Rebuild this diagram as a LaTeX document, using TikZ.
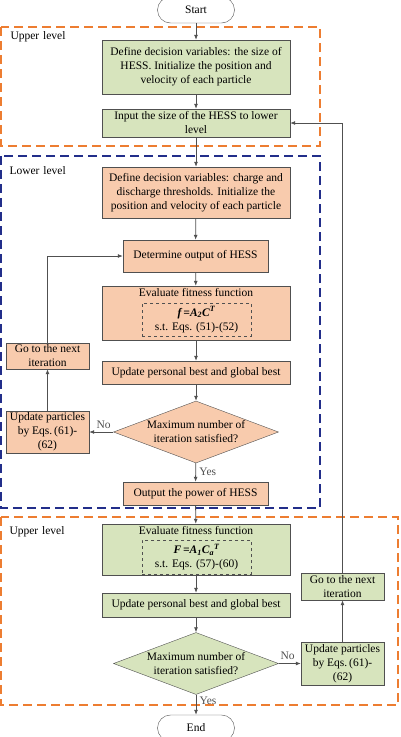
\documentclass[tikz,border=0pt]{standalone}
\usepackage{fontspec}
\setmainfont{Liberation Serif}
\usetikzlibrary{arrows.meta,shapes.geometric}

\definecolor{boxgreen}{RGB}{215,228,189}
\definecolor{boxorange}{RGB}{248,203,173}
\definecolor{frameorange}{RGB}{237,125,49}
\definecolor{framenavy}{RGB}{34,46,138}
\definecolor{edgegray}{RGB}{80,80,80}

\tikzset{
  every node/.style={font=\fontsize{11.5}{14}\selectfont},
  greenbox/.style={draw=edgegray, fill=boxgreen, align=center, inner sep=1pt},
  orangebox/.style={draw=edgegray, fill=boxorange, align=center, inner sep=1pt},
  eqbox/.style={draw=edgegray, dashed, align=center, inner sep=1pt},
  decide/.style={diamond, draw=edgegray, align=center, inner sep=0pt, aspect=2.66},
  terminal/.style={draw=edgegray, rounded corners=13pt, minimum width=77pt, minimum height=26pt},
  levelframe/.style={line width=1.6pt, dash pattern=on 9pt off 5pt},
  flow/.style={-{Latex[length=5pt,width=4pt]}, edgegray, thick}
}

\begin{document}
\begin{tikzpicture}[x=1pt, y=-1pt]
            \useasboundingbox (0,0) rectangle (400,737);

            % Frames of the levels
            \draw [levelframe, frameorange] (1,27) rectangle (320,146);
            \draw [levelframe, framenavy] (1,156) rectangle (320,508);
            \draw [levelframe, frameorange] (1,517) rectangle (398,705);
            \node [anchor=west] (uplabA) at (7,37) {Upper\,\,level};
            \node [anchor=west] (lowlabel) at (6,171) {Lower\,\,level};
            \node [anchor=west] (uplabB) at (6,532) {Upper\,\,level};

            % Upper level
            \node [terminal, fill=white] (start) at (196,10) {Start};
            \node [greenbox, minimum width=188pt, minimum height=54pt] (initU) at (196,67)
                {Define decision variables: the size of\\HESS. Initialize the position and\\velocity of each particle};
            \node [greenbox, minimum width=188pt, minimum height=28pt] (input) at (196,123)
                {Input the size of the HESS to lower\\level};

            % Lower level
            \node [orangebox, minimum width=188pt, minimum height=51pt] (initL) at (196,192.5)
                {Define decision variables: charge and\\discharge thresholds. Initialize the\\position and velocity of each particle};
            \node [orangebox, minimum width=145pt, minimum height=32pt] (output) at (195.5,256)
                {Determine output of HESS};
            \node [orangebox, minimum width=188pt, minimum height=54pt] (evalL) at (196,313) {};
            \node [anchor=north, inner sep=1pt] (evalLtitle) at (196,287) {Evaluate fitness function};
            \node [eqbox, minimum width=109pt, minimum height=33pt] (eqL) at (196.5,319.5)
                {{\bfseries\itshape f\,=A\textsubscript{2}C\textsuperscript{T}}\\s.t. Eqs. (51)-(52)};
            \node [orangebox, minimum width=188pt, minimum height=23pt] (bestL) at (196,372.5)
                {Update personal best and global best};
            \node [decide, fill=boxorange, minimum width=165pt, minimum height=62pt] (maxL) at (196,432)
                {Maximum number of\\iteration satisfied?};
            \node [orangebox, minimum width=145pt, minimum height=23pt] (power) at (195.5,493.5)
                {Output the power of HESS};
            \node [orangebox, minimum width=83pt, minimum height=42pt] (updL) at (47.5,432)
                {Update particles\\by Eqs.\,(61)-\\(62)};
            \node [orangebox, minimum width=83pt, minimum height=26pt] (nextL) at (47.5,356)
                {Go to the next\\iteration};

            % Upper level again
            \node [greenbox, minimum width=188pt, minimum height=51pt] (evalU) at (196,549.5) {};
            \node [anchor=north, inner sep=1pt] (evalUtitle) at (196,525) {Evaluate fitness function};
            \node [eqbox, minimum width=109pt, minimum height=34pt] (eqU) at (196.5,557)
                {{\bfseries\itshape F\,=A\textsubscript{1}C\textsubscript{a}\textsuperscript{T}}\\s.t. Eqs. (57)-(60)};
            \node [greenbox, minimum width=188pt, minimum height=24pt] (bestU) at (196,605)
                {Update personal best and global best};
            \node [decide, fill=boxgreen, minimum width=165pt, minimum height=62pt] (maxU) at (196,663.5)
                {Maximum number of\\iteration satisfied?};
            \node [greenbox, minimum width=83pt, minimum height=43pt] (updU) at (342.5,663.5)
                {Update particles\\by Eqs.\,(61)-\\(62)};
            \node [greenbox, minimum width=83pt, minimum height=27pt] (nextU) at (342.5,586.5)
                {Go to the next\\iteration};
            \node [terminal, fill=white] (end) at (196,728) {End};

            % Connectors
            \draw [flow] (start) -- (initU);
            \draw [flow] (initU) -- (input);
            \draw [flow] (input) -- (initL);
            \draw [flow] (initL) -- (output);
            \draw [flow] (output) -- (evalL);
            \draw [flow] (evalL) -- (bestL);
            \draw [flow] (bestL) -- (maxL);
            \draw [flow] (maxL) -- node [right, pos=0.45] {Yes} (power);
            \draw [flow] (maxL.west) -- node [above, pos=0.4] {No} (updL.east);
            \draw [flow] (updL) -- (nextL);
            \draw [flow] (nextL.north) |- (output.west);
            \draw [flow] (power) -- (evalU);
            \draw [flow] (evalU) -- (bestU);
            \draw [flow] (bestU) -- (maxU);
            \draw [flow] (maxU) -- node [right, pos=0.3] {Yes} (end);
            \draw [flow] (maxU.east) -- node [above, pos=0.4] {No} (updU.west);
            \draw [flow] (updU) -- (nextU);
            \draw [flow] (nextU.north) |- (input.east);
        \end{tikzpicture}
\end{document}
